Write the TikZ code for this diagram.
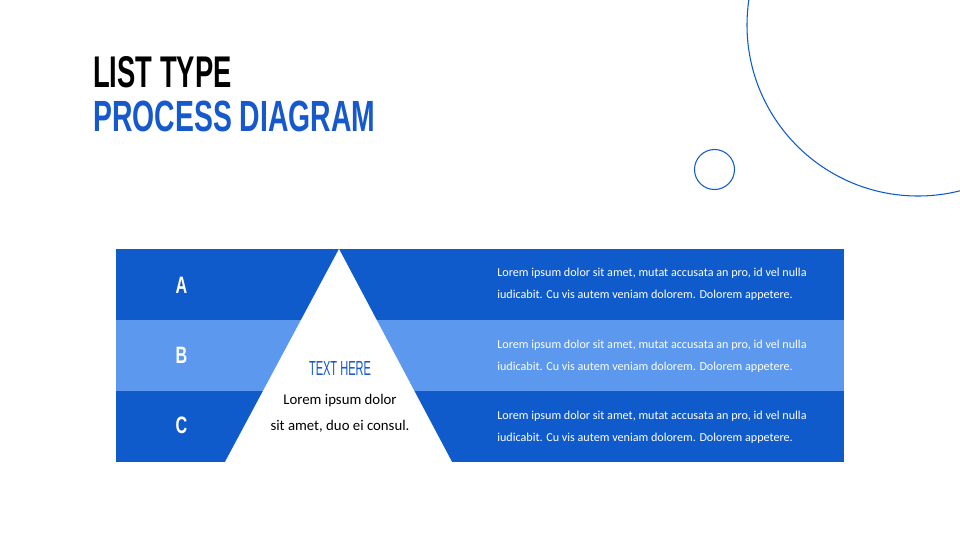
\documentclass[tikz,border=0pt]{standalone}
\usepackage{fontspec}
\setmainfont{Carlito}
\newfontfamily\condfont{Liberation Sans}
\usepackage{graphicx}
\definecolor{darkblue}{HTML}{105BCB}
\definecolor{lightblue}{HTML}{5B98EE}
\definecolor{titleblue}{HTML}{1559CC}
\newdimen\pxu \pxu=0.75pt
\newcommand{\cnd}[1]{\scalebox{0.68}[1]{#1}}
\tikzset{
  letter/.style={inner sep=0, text=white, font=\condfont\bfseries\fontsize{17.8}{20}\selectfont},
  desc/.style={anchor=base west, inner sep=0, text=white, font=\fontsize{9.1}{11}\selectfont},
  tritext/.style={anchor=base, inner sep=0, text=black, font=\fontsize{11.1}{13}\selectfont},
  ring/.style={draw=darkblue, line width=0.8pt}
}
\begin{document}
\begin{tikzpicture}[x=0.75pt,y=-0.75pt]
\useasboundingbox (0,0) rectangle (960,540);
\fill[white] (0,0) rectangle (960,540);
% decorative circles
\draw[ring] (918,25) circle[radius=171];
\draw[ring] (714.5,169.5) circle[radius=20];
% title
\node[anchor=base west, inner sep=0] (t1) at (93,87) {\resizebox{138.4\pxu}{31\pxu}{\condfont\bfseries LIST TYPE}};
\node[anchor=base west, inner sep=0, text=titleblue] (t2) at (93,131) {\resizebox{282\pxu}{30.5\pxu}{\condfont\bfseries PROCESS DIAGRAM}};
% bands
\fill[darkblue] (116,249) rectangle (844,320);
\fill[lightblue] (116,320) rectangle (844,391);
\fill[darkblue] (116,391) rectangle (844,462);
% triangle
\fill[white] (339,249) -- (225,462) -- (452,462) -- cycle;
% letters
\node[letter] (la) at (181.5,285.5) {\cnd{A}};
\node[letter] (lb) at (181.5,355.5) {\cnd{B}};
\node[letter] (lc) at (181.5,425.5) {\cnd{C}};
% triangle text
\node[anchor=base, inner sep=0, text=titleblue] (th) at (340,375) {\resizebox{62\pxu}{14\pxu}{\condfont TEXT HERE}};
\node[tritext] (tl1) at (340,404) {Lorem ipsum dolor};
\node[tritext] (tl2) at (340,430) {sit amet, duo ei consul.};
% descriptions
\node[desc] (da1) at (497,276) {Lorem ipsum dolor sit amet, mutat accusata an pro, id vel nulla};
\node[desc] (da2) at (497,298) {iudicabit. Cu vis autem veniam dolorem. Dolorem appetere.};
\node[desc] (db1) at (497,348) {Lorem ipsum dolor sit amet, mutat accusata an pro, id vel nulla};
\node[desc] (db2) at (497,370) {iudicabit. Cu vis autem veniam dolorem. Dolorem appetere.};
\node[desc] (dc1) at (497,419) {Lorem ipsum dolor sit amet, mutat accusata an pro, id vel nulla};
\node[desc] (dc2) at (497,441) {iudicabit. Cu vis autem veniam dolorem. Dolorem appetere.};
\end{tikzpicture}
\end{document}
